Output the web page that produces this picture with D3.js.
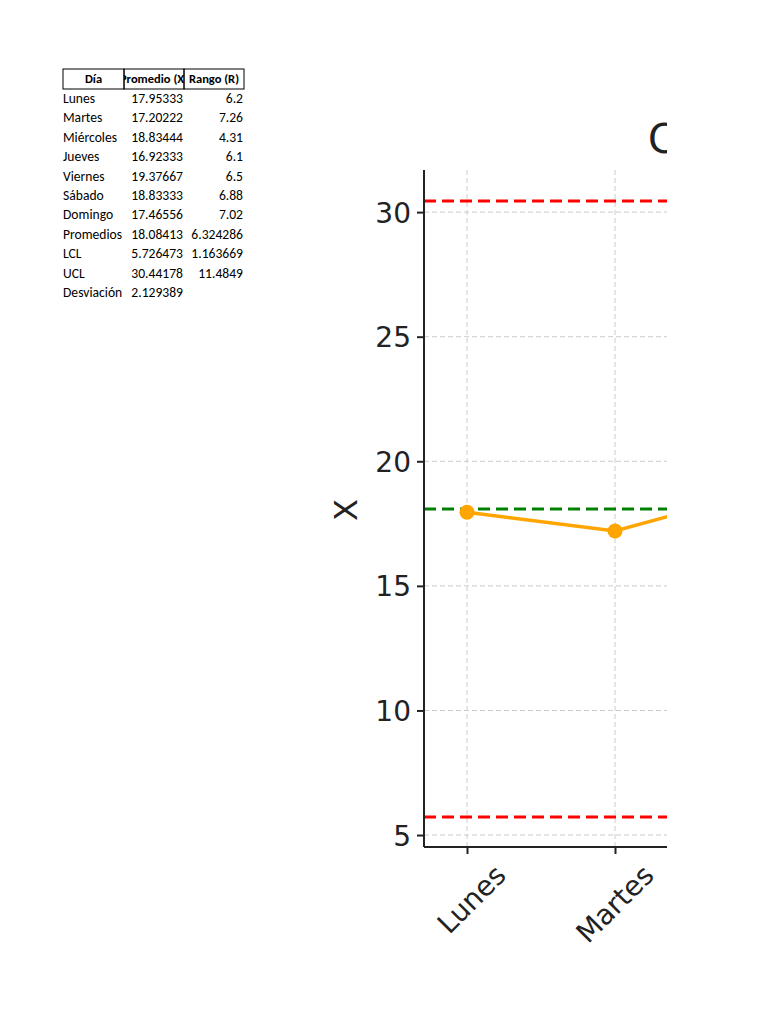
<!DOCTYPE html><html><head><meta charset="utf-8">
<script src="https://cdn.jsdelivr.net/npm/d3@7"></script>
<style>body{margin:0;background:#fff}svg{display:block}</style></head><body>
<script>
const days=["Lunes","Martes","Miércoles","Jueves","Viernes","Sábado","Domingo"];
const means=[17.95333,17.20222,18.83444,16.92333,19.37667,18.83333,17.46556];
const ranges=[6.2,7.26,4.31,6.1,6.5,6.88,7.02];
const summaryLabels=["Promedios","LCL","UCL","Desviación"];
const summaryX=["18.08413","5.726473","30.44178","2.129389"];
const summaryR=["6.324286","1.163669","11.4849",""];
const yTicks=[5,10,15,20,25,30];
const center=18.08413, lcl=5.726473, ucl=30.44178;

const svg=d3.select("body").append("svg").attr("width",768).attr("height",1024);
const t=svg.append("g").attr("font-family","Carlito, 'Liberation Sans', sans-serif").attr("font-size",13.6).attr("fill","#000");
const hdr=[["Día",63,124],["Promedio (X)",124,184],["Rango (R)",184,244]];
const defs=svg.append("defs");
hdr.forEach((h,i)=>{
  defs.append("clipPath").attr("id","hc"+i).append("rect").attr("x",h[1]).attr("y",69).attr("width",h[2]-h[1]).attr("height",20);
  t.append("rect").attr("x",h[1]).attr("y",69).attr("width",h[2]-h[1]).attr("height",20).attr("fill","none").attr("stroke","#000");
  t.append("text").attr("clip-path","url(#hc"+i+")").attr("x",(h[1]+h[2])/2).attr("y",83).attr("text-anchor","middle").attr("font-weight","bold").attr("font-size",12.5).text(h[0]);
});
const rows=days.map((d,i)=>[d,means[i].toString(),ranges[i].toString()]).concat(summaryLabels.map((l,i)=>[l,summaryX[i],summaryR[i]]));
rows.forEach((r,i)=>{
  const y=103+i*19.4;
  t.append("text").attr("x",63).attr("y",y).text(r[0]);
  t.append("text").attr("x",183).attr("y",y).attr("text-anchor","end").text(r[1]);
  t.append("text").attr("x",243).attr("y",y).attr("text-anchor","end").text(r[2]);
});
defs.append("clipPath").attr("id","cc").append("rect").attr("x",0).attr("y",0).attr("width",667).attr("height",1024);
const F="'DejaVu Sans', sans-serif";
const g=svg.append("g").attr("clip-path","url(#cc)").attr("font-family",F);
const y=d3.scaleLinear().domain([4.52,31.69]).range([847,170]);
const x=d3.scalePoint().domain(days).range([467,467+148*6]);
g.append("text").attr("x",648).attr("y",153).attr("font-size",40).attr("fill","#222").text("Carta de Control X");
g.selectAll(".gy").data(yTicks).join("line").attr("x1",424).attr("x2",1400).attr("y1",d=>y(d)).attr("y2",d=>y(d)).attr("stroke","#ccc").attr("stroke-dasharray","5,3");
g.selectAll(".gx").data(days).join("line").attr("x1",d=>x(d)).attr("x2",d=>x(d)).attr("y1",170).attr("y2",847).attr("stroke","#ccc").attr("stroke-dasharray","5,3");
[[ucl,"red"],[center,"green"],[lcl,"red"]].forEach(([v,c])=>g.append("line").attr("x1",424).attr("x2",1400).attr("y1",y(v)).attr("y2",y(v)).attr("stroke",c).attr("stroke-width",3).attr("stroke-dasharray","12,6"));
g.append("path").datum(means).attr("fill","none").attr("stroke","#ffa500").attr("stroke-width",3.5).attr("d",d3.line().x((d,i)=>x(days[i])).y(d=>y(d)));
g.selectAll(".pt").data(means).join("circle").attr("cx",(d,i)=>x(days[i])).attr("cy",d=>y(d)).attr("r",7.5).attr("fill","#ffa500");
const ya=g.append("g").attr("transform","translate(424,0)").call(d3.axisLeft(y).tickValues(yTicks).tickSize(7).tickPadding(6));
ya.attr("font-family",F);
ya.select(".domain").attr("stroke","#222").attr("stroke-width",2).attr("d","M0,170V847");
ya.selectAll("text").attr("font-size",28).attr("fill","#222").attr("dy","0.36em");
ya.selectAll("line").attr("stroke","#222").attr("stroke-width",2);
const xa=g.append("g").attr("transform","translate(0,847)").call(d3.axisBottom(x).tickSize(7));
xa.attr("font-family",F);
xa.select(".domain").attr("stroke","#222").attr("stroke-width",2).attr("d","M424,0H1400");
xa.selectAll("line").attr("stroke","#222").attr("stroke-width",2);
xa.selectAll("text").attr("font-size",28).attr("fill","#222").attr("text-anchor","end").attr("dy","0").attr("y",0).attr("transform","translate(40,30) rotate(-45)");
g.append("text").attr("transform","translate(357,510) rotate(-90)").attr("text-anchor","middle").attr("font-size",32).attr("fill","#222").text("X");
</script></body></html>
